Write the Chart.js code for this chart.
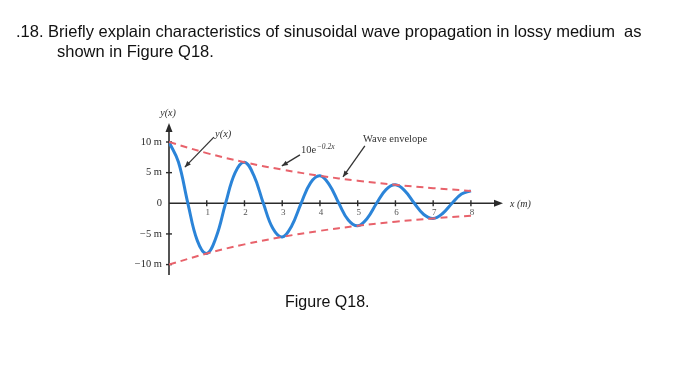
<!DOCTYPE html>
<html lang="en">
<head>
<meta charset="UTF-8">
<title>Figure Q18</title>
<style>
    body { margin: 0; background: #fff; font-family: "Liberation Sans", Arial, sans-serif; }
    .page { position: relative; width: 700px; height: 377px; overflow: hidden; }
    .page canvas { position: absolute; left: 0; top: 0; }
    .question { position: absolute; left: 16px; top: 21px; font-size: 16.5px; line-height: 20px; color: #111; white-space: pre; }
    .question .second { padding-left: 41px; }
    .caption { position: absolute; left: 285px; top: 293px; font-size: 16px; color: #111; }
</style>
</head>
<body>
<div class="page">
    <canvas id="waveChart" width="700" height="377"></canvas>
    <div class="question">.18. Briefly explain characteristics of sinusoidal wave propagation in lossy medium  as
<span class="second">shown in Figure Q18.</span></div>
    <div class="caption">Figure Q18.</div>
</div>

<script src="https://cdn.jsdelivr.net/npm/chart.js@4.4.1/dist/chart.umd.min.js"></script>
<script>
// values
const waveX = [0, 0.25, 0.5, 0.75, 1, 1.25, 1.5, 1.75, 2, 2.25, 2.5, 2.75, 3, 3.25, 3.5, 3.75,
               4, 4.25, 4.5, 4.75, 5, 5.25, 5.5, 5.75, 6, 6.25, 6.5, 6.75, 7, 7.25, 7.5, 7.75, 8];
const waveY = [10, 6.73, 0, -6.09, -8.19, -5.51, 0, 4.98, 6.70, 4.51, 0, -4.08, -5.49, -3.69, 0, 3.34,
               4.49, 3.02, 0, -2.73, -3.68, -2.47, 0, 2.24, 3.01, 2.03, 0, -1.83, -2.47, -1.66, 0, 1.50, 2.02];
const envX = [0, 1, 2, 3, 4, 5, 6, 7, 8];
const envUpper = [10, 8.19, 6.70, 5.49, 4.49, 3.68, 3.01, 2.47, 2.02];
const envLower = [-10, -8.19, -6.70, -5.49, -4.49, -3.68, -3.01, -2.47, -2.02];
const xTicks = [1, 2, 3, 4, 5, 6, 7, 8];
const yTicks = [10, 5, 0, -5, -10];
const yTickLabels = ['10 m', '5 m', '0', '\u22125 m', '\u221210 m'];

const xMin = 0, xMax = 8.85;
const yMin = -11.7, yMax = 13.1;

const pts = (xs, ys) => xs.map((v, i) => ({ x: v, y: ys[i] }));

const WAVE = '#2b84d8';
const ENV = '#e8626b';
const AXIS = '#2b2b2b';
const SERIF = '"Liberation Serif", "DejaVu Serif", serif';

function arrowHead(ctx, fx, fy, tx, ty, len, half) {
    const a = Math.atan2(ty - fy, tx - fx);
    ctx.beginPath();
    ctx.moveTo(tx, ty);
    ctx.lineTo(tx - len * Math.cos(a) + half * Math.sin(a), ty - len * Math.sin(a) - half * Math.cos(a));
    ctx.lineTo(tx - len * Math.cos(a) - half * Math.sin(a), ty - len * Math.sin(a) + half * Math.cos(a));
    ctx.closePath();
    ctx.fill();
}

// callouts in data units: text anchor, arrow start, arrow tip
const callouts = [
    { text: 'y(x)', italic: true, tx: 1.22, ty: 11.3, from: [1.19, 10.8], to: [0.42, 5.9] },
    { text: '10e', sup: '\u22120.2x', tx: 3.5, ty: 8.6, from: [3.47, 7.9], to: [2.99, 6.1] },
    { text: 'Wave envelope', tx: 5.14, ty: 10.4, from: [5.19, 9.35], to: [4.61, 4.3] }
];

const axesPlugin = {
    id: 'axes',
    beforeDatasetsDraw(chart) {
        const { ctx, scales: { x, y } } = chart;
        const x0 = x.getPixelForValue(0);
        const y0 = y.getPixelForValue(0);
        const xEnd = x.getPixelForValue(xMax);
        const yTop = y.getPixelForValue(yMax);
        const yBot = y.getPixelForValue(yMin);

        ctx.save();
        ctx.strokeStyle = AXIS;
        ctx.fillStyle = AXIS;
        ctx.lineWidth = 1.6;

        ctx.beginPath();
        ctx.moveTo(x0, y0);
        ctx.lineTo(xEnd - 6, y0);
        ctx.moveTo(x0, yBot);
        ctx.lineTo(x0, yTop + 6);
        ctx.stroke();
        arrowHead(ctx, x0, y0, xEnd, y0, 9, 3.5);
        arrowHead(ctx, x0, y0, x0, yTop, 9, 3.5);

        // x ticks
        ctx.lineWidth = 1.4;
        ctx.font = '9px ' + SERIF;
        ctx.textAlign = 'center';
        ctx.textBaseline = 'top';
        xTicks.forEach(v => {
            const px = x.getPixelForValue(v);
            ctx.beginPath();
            ctx.moveTo(px, y0 - 3);
            ctx.lineTo(px, y0 + 3);
            ctx.stroke();
            ctx.fillStyle = '#555';
            ctx.fillText(String(v), px + 1, y0 + 5);
        });

        // y ticks
        ctx.fillStyle = AXIS;
        ctx.font = '10.5px ' + SERIF;
        ctx.textAlign = 'right';
        ctx.textBaseline = 'middle';
        yTicks.forEach((v, i) => {
            const py = y.getPixelForValue(v);
            if (v !== 0) {
                ctx.beginPath();
                ctx.moveTo(x0 - 3, py);
                ctx.lineTo(x0 + 3, py);
                ctx.stroke();
            }
            ctx.fillText(yTickLabels[i], x0 - 7, py);
        });

        // axis titles
        ctx.font = 'italic 10px ' + SERIF;
        ctx.textAlign = 'center';
        ctx.textBaseline = 'middle';
        ctx.fillText('y(x)', x0 - 1, yTop - 10);
        ctx.textAlign = 'left';
        ctx.fillText('x (m)', xEnd + 7, y0 + 1);
        ctx.restore();
    },
    afterDatasetsDraw(chart) {
        const { ctx, scales: { x, y } } = chart;
        ctx.save();
        ctx.strokeStyle = '#333';
        ctx.fillStyle = '#333';
        ctx.lineWidth = 1.3;
        callouts.forEach(c => {
            const fx = x.getPixelForValue(c.from[0]), fy = y.getPixelForValue(c.from[1]);
            const tx = x.getPixelForValue(c.to[0]), ty = y.getPixelForValue(c.to[1]);
            ctx.beginPath();
            ctx.moveTo(fx, fy);
            ctx.lineTo(tx, ty);
            ctx.stroke();
            arrowHead(ctx, fx, fy, tx, ty, 6, 2.5);

            const lx = x.getPixelForValue(c.tx), ly = y.getPixelForValue(c.ty);
            ctx.textAlign = 'left';
            ctx.textBaseline = 'middle';
            ctx.font = (c.italic ? 'italic ' : '') + '10.5px ' + SERIF;
            ctx.fillText(c.text, lx, ly);
            if (c.sup) {
                const w = ctx.measureText(c.text).width;
                ctx.font = 'italic 7.5px ' + SERIF;
                ctx.fillText(c.sup, lx + w + 0.5, ly - 4);
            }
        });
        ctx.restore();
    }
};

new Chart(document.getElementById('waveChart'), {
    type: 'line',
    data: {
        datasets: [{
            label: 'upper envelope',
            data: pts(envX, envUpper),
            borderColor: ENV,
            borderWidth: 2,
            borderDash: [7, 5],
            pointRadius: 0,
            tension: 0.4,
            fill: false
        }, {
            label: 'lower envelope',
            data: pts(envX, envLower),
            borderColor: ENV,
            borderWidth: 2,
            borderDash: [7, 5],
            pointRadius: 0,
            tension: 0.4,
            fill: false
        }, {
            label: 'y(x)',
            data: pts(waveX, waveY),
            borderColor: WAVE,
            borderWidth: 3,
            pointRadius: 0,
            tension: 0.4,
            fill: false
        }]
    },
    options: {
        responsive: false,
        animation: false,
        layout: { padding: { left: 169, right: 197, top: 123, bottom: 102 } },
        scales: {
            x: { type: 'linear', min: xMin, max: xMax, display: false },
            y: { type: 'linear', min: yMin, max: yMax, display: false }
        },
        plugins: {
            legend: { display: false },
            tooltip: { enabled: false }
        }
    },
    plugins: [axesPlugin]
});
</script>
</body>
</html>
